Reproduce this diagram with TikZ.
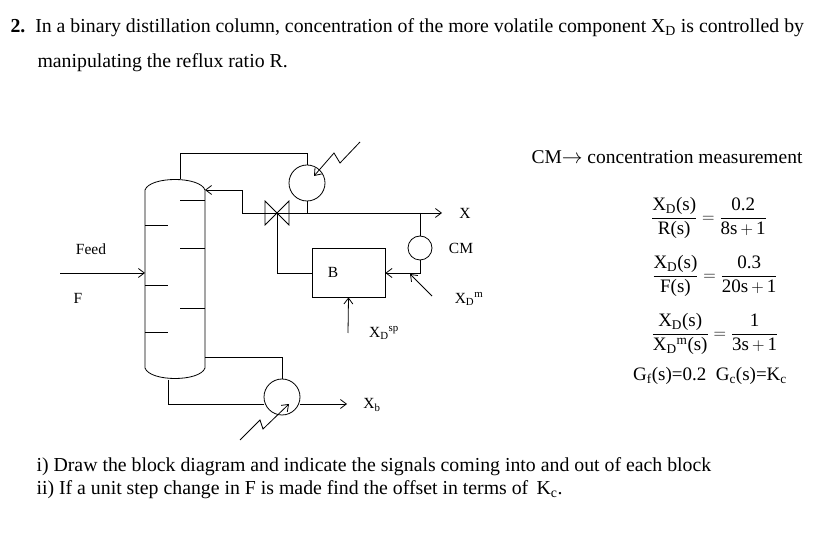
\documentclass[tikz,border=0pt]{standalone}
\usepackage{amsmath}
\usepackage{fontspec}
\setmainfont{Liberation Serif}
\usetikzlibrary{arrows.meta}

\tikzset{
  pipe/.style={thick},
  flow/.style={thick, -{Straight Barb[length=6pt,width=9pt]}},
  lbl/.style={font=\fontsize{15.5}{18}\selectfont},
  txt/.style={font=\fontsize{19.8}{24}\selectfont, anchor=west},
  eq/.style={font=\fontsize{19}{23}\selectfont},
}
\newcommand{\tf}[2]{\dfrac{\text{#1}}{\text{#2}}}

\begin{document}
\begin{tikzpicture}[x=1pt,y=-1pt]
	\useasboundingbox (0,0) rectangle (828,534);
	% question text
	\node[txt] (q1) at (7,28) {\textbf{2.}\enspace In a binary distillation column, concentration of the more volatile component X\textsubscript{D} is controlled by};
	\node[txt] (q2) at (34,63) {manipulating the reflux ratio R.};
	% column
	\draw[pipe] (145,190) .. controls (150,176) and (200,176) .. (205,190) -- (205,368)
		.. controls (200,382) and (150,382) .. (145,368) -- cycle;
	\foreach \y in {225,285,332} \draw[pipe] (145,\y) -- (168,\y);
	\foreach \y in {200,248,308} \draw[pipe] (180,\y) -- (205,\y);
	% condenser
	\node[draw, thick, circle, minimum size=36pt, inner sep=0pt] (cond) at (307,183) {};
	\draw[pipe] (180,179) -- (180,153) -- (307,153) -- (cond.north);
	\draw[pipe] (cond.south) -- (307,213);
	\coordinate (xout) at (442,213);
	\node[lbl] (X) at (465,213) {X};
	\draw[flow] (242,213) -- (xout);
	\draw[flow] (242,213) -- (242,190) -- (205,190);
	\draw[thick, -{Straight Barb[length=6pt,width=9pt]}] (360,142) -- (340,163) -- (334,153) -- (314,176);
	% valve
	\draw[pipe] (265,201) -- (289,225) -- (289,201) -- (265,225) -- cycle;
	% controller
	\node[draw, thick, minimum width=73pt, minimum height=49pt, inner sep=0pt] (B) at (348.5,272.5) {};
	\node[lbl] (Bl) at (333,272) {B};
	\draw[pipe] (277,213) -- (277,273) -- (B.west |- 0,273);
	% measurement
	\node[draw, thick, circle, minimum size=24pt, inner sep=0pt] (cm) at (420,248) {};
	\node[lbl] (CMl) at (461,248) {CM};
	\draw[pipe] (420,213) -- (cm.north);
	\draw[flow] (cm.south) -- (420,273) -- (B.east |- 0,273);
	\coordinate (xdm) at (432,296);
	\node[lbl] (XDm) at (469,299) {X\textsubscript{D}\textsuperscript{m}};
	\draw[flow] (xdm) -- (410,274);
	\coordinate (xdsp) at (348,333);
	\node[lbl] (XDsp) at (384,333) {X\textsubscript{D}\textsuperscript{sp}};
	\draw[flow] (xdsp) -- (B.south);
	% feed
	\coordinate (fin) at (60,273);
	\node[lbl] (Feed) at (91,249) {Feed};
	\node[lbl] (F) at (78,298) {F};
	\draw[flow] (fin) -- (145,273);
	% reboiler
	\node[draw, thick, circle, minimum size=36pt, inner sep=0pt] (reb) at (282,397) {};
	\draw[pipe] (205,357) -- (282,357) -- (reb.north);
	\draw[pipe] (168,380) -- (168,404) -- (reb.west |- 0,404);
	\draw[flow] (reb.east |- 0,404) -- (347,404);
	\node[lbl] (Xb) at (372,405) {X\textsubscript{b}};
	\draw[thick, -{Straight Barb[length=6pt,width=9pt]}] (240,440) -- (260,420) -- (263,429) -- (289,404);
	% right side
	\node[anchor=west, font=\fontsize{19.5}{23}\selectfont] (cmdef) at (528,157) {CM$\rightarrow$ concentration measurement};
	\node[eq] (eq1) at (709,218) {$\tf{X\textsubscript{D}(s)}{R(s)}=\tf{0.2}{8s\,$+$\,1}$};
	\node[eq] (eq2) at (715,276) {$\tf{X\textsubscript{D}(s)}{F(s)}=\tf{0.3}{20s\,$+$\,1}$};
	\node[eq] (eq3) at (715,334) {$\tf{X\textsubscript{D}(s)}{X\textsubscript{D}\textsuperscript{m}(s)}=\tf{1}{3s\,$+$\,1}$};
	\node[eq] (eq4) at (710,376) {G\textsubscript{f}(s)=0.2\enspace G\textsubscript{c}(s)=K\textsubscript{c}};
	% tasks
	\node[txt] (t1) at (33,467) {i) Draw the block diagram and indicate the signals coming into and out of each block};
	\node[txt] (t2) at (33,490) {ii) If a unit step change in F is made find the offset in terms of\, K\textsubscript{c}.};
\end{tikzpicture}
\end{document}
